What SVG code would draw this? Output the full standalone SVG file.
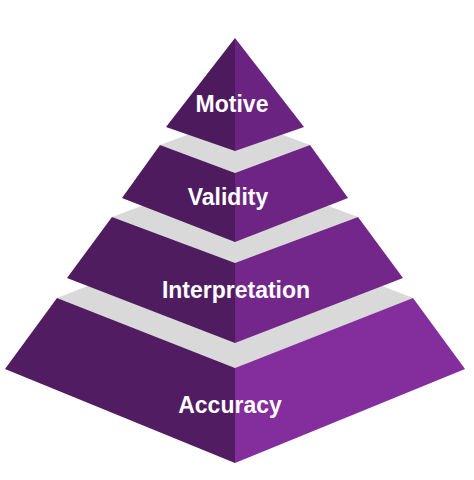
<svg xmlns="http://www.w3.org/2000/svg" width="474" height="480" viewBox="0 0 474 480">
<style>
.top{fill:#d9d9d9}
.lbl{font-family:"Liberation Sans",Arial,sans-serif;font-weight:bold;font-size:23px;fill:#ffffff;text-anchor:middle}
</style>
<rect width="474" height="480" fill="#ffffff"/>
<g id="accuracy">
<polygon class="top" points="57,298 235,228 413,298 235,368"/>
<polygon fill="#511c61" points="57,298 235,368 235,463 5,369"/>
<polygon fill="#832e9c" points="235,368 413,298 465,369 235,463"/>
<text class="lbl" x="230" y="413">Accuracy</text>
</g>
<g id="interpretation">
<polygon class="top" points="112,217 235,171 358,217 235,263"/>
<polygon fill="#501c60" points="112,217 235,263 235,343 67,278"/>
<polygon fill="#74278b" points="235,263 358,217 403,278 235,343"/>
<text class="lbl" x="236" y="298">Interpretation</text>
</g>
<g id="validity">
<polygon class="top" points="160,145 235,117 310,145 235,173"/>
<polygon fill="#4e1b5e" points="160,145 235,173 235,242 122,198"/>
<polygon fill="#6d2485" points="235,173 310,145 348,198 235,242"/>
<text class="lbl" x="228" y="205">Validity</text>
</g>
<g id="motive">
<polygon fill="#4d1b5d" points="235,38 235,151 166,127"/>
<polygon fill="#6a2381" points="235,38 304,127 235,151"/>
<text class="lbl" x="232" y="112">Motive</text>
</g>
<g id="connectors"/>
</svg>
